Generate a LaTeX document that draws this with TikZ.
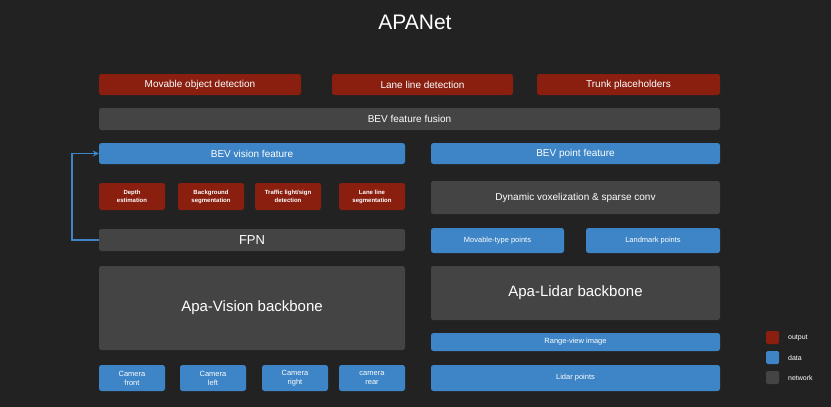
\documentclass[tikz,border=0pt]{standalone}
\usepackage{fontspec}
\setmainfont{Liberation Sans}
\usetikzlibrary{arrows.meta}
\definecolor{bg}{HTML}{222222}
\definecolor{outc}{HTML}{8A1F10}
\definecolor{datac}{HTML}{3D85C6}
\definecolor{netc}{HTML}{444444}
\begin{document}
\begin{tikzpicture}[x=1pt,y=-1pt,
  box/.style={rounded corners=2.5pt,text=white,inner sep=0pt,align=center},
  obox/.style={box,fill=outc},
  dbox/.style={box,fill=datac},
  nbox/.style={box,fill=netc},
  lg/.style={rounded corners=1.5pt,minimum size=13pt,inner sep=0pt},
  lt/.style={text=white,font=\fontsize{7}{8}\selectfont,anchor=west,inner sep=0pt}]
\fill[bg] (0,0) rectangle (831,407);
\useasboundingbox (0,0) rectangle (831,407);
\newcommand\bx[6]{\node[#1,minimum width=#4-#2,minimum height=#5-#3,font=#6] (n#2x#3) at ({(#2+#4)/2},{(#3+#5)/2})}
\node[text=white,font=\fontsize{21}{24}\selectfont] (title) at (415,22) {APANet};
\bx{obox}{99}{74}{301}{95}{\fontsize{10}{12}\selectfont}{Movable object detection};
\bx{obox}{332}{74}{513}{95}{\fontsize{10}{12}\selectfont}{Lane line detection};
\bx{obox}{537}{74}{720}{95}{\fontsize{10}{12}\selectfont}{Trunk placeholders};
\bx{nbox}{99}{108}{720}{130}{\fontsize{10}{12}\selectfont}{BEV feature fusion};
\bx{dbox}{99}{143}{405}{164}{\fontsize{10}{12}\selectfont}{BEV vision feature};
\bx{dbox}{431}{143}{720}{164}{\fontsize{10}{12}\selectfont}{BEV point feature};
\bx{obox}{99}{183}{165}{210}{\fontsize{6}{8}\selectfont\bfseries}{Depth\\estimation};
\bx{obox}{178}{183}{244}{210}{\fontsize{6}{8}\selectfont\bfseries}{Background\\segmentation};
\bx{obox}{255}{183}{321}{210}{\fontsize{6}{8}\selectfont\bfseries}{Traffic light/sign\\detection};
\bx{obox}{339}{183}{405}{210}{\fontsize{6}{8}\selectfont\bfseries}{Lane line\\segmentation};
\bx{nbox}{431}{181}{720}{214}{\fontsize{10}{12}\selectfont}{Dynamic voxelization \& sparse conv};
\bx{nbox}{99}{229}{405}{251}{\fontsize{13}{15}\selectfont}{FPN};
\bx{dbox}{431}{228}{564}{253}{\fontsize{7.5}{9}\selectfont}{Movable-type points};
\bx{dbox}{586}{228}{720}{253}{\fontsize{7.5}{9}\selectfont}{Landmark points};
\bx{nbox}{99}{266}{405}{350}{\fontsize{15}{18}\selectfont}{Apa-Vision backbone};
\bx{nbox}{431}{266}{720}{320}{\fontsize{15}{18}\selectfont}{Apa-Lidar backbone};
\bx{dbox}{431}{333}{720}{351}{\fontsize{7.5}{9}\selectfont}{Range-view image};
\bx{dbox}{99}{365}{165}{391}{\fontsize{7.5}{9}\selectfont}{Camera\\front};
\bx{dbox}{180}{365}{246}{391}{\fontsize{7.5}{9}\selectfont}{Camera\\left};
\bx{dbox}{262}{365}{328}{391}{\fontsize{7.5}{9}\selectfont}{Camera\\right};
\bx{dbox}{339}{365}{405}{391}{\fontsize{7.5}{9}\selectfont}{camera\\rear};
\bx{dbox}{431}{365}{720}{391}{\fontsize{7.5}{9}\selectfont}{Lidar points};
\draw[datac,line width=1.2pt,-{Stealth[length=6pt,width=6pt]}] (n99x229.west) -| (72,153.5) -- (n99x143.west);
\node[lg,fill=outc] (l1) at (772.5,337.5) {};
\node[lg,fill=datac] (l2) at (772.5,357.5) {};
\node[lg,fill=netc] (l3) at (772.5,377.5) {};
\node[lt] (t1) at (788,337.5) {output};
\node[lt] (t2) at (788,357.5) {data};
\node[lt] (t3) at (788,377.5) {network};
\end{tikzpicture}
\end{document}
